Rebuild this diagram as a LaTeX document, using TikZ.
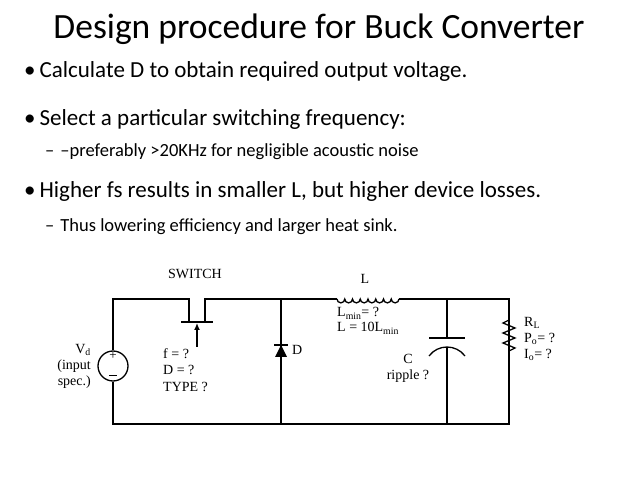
\documentclass[tikz,border=0pt]{standalone}
\usepackage{fontspec}
\setmainfont{Carlito}
\newfontfamily\tms{Liberation Serif}
\usetikzlibrary{arrows.meta}
\begin{document}
\begin{tikzpicture}[x=1pt,y=-1pt,
  w/.style={line width=1.3pt},
  lbl/.style={font=\tms\fontsize{14}{15}\selectfont,inner sep=0pt},
  bul/.style={anchor=base west,font=\fontsize{23}{26}\selectfont,inner sep=0pt},
  sub/.style={anchor=base west,font=\fontsize{18.5}{20}\selectfont,inner sep=0pt}]
\useasboundingbox (0,0) rectangle (638,478);
\node[font=\fontsize{35.5}{40}\selectfont,anchor=base] (title) at (319,39) {Design procedure for Buck Converter};
\node[bul] (b1) at (24,78) {•\hspace{4pt}Calculate D to obtain required output voltage.};
\node[bul] (b2) at (24,126) {•\hspace{4pt}Select a particular switching frequency:};
\node[sub] (s2) at (45,157) {–\hspace{6pt}–preferably >20KHz for negligible acoustic noise};
\node[bul] (b3) at (24,198) {•\hspace{4pt}Higher fs results in smaller L, but higher device losses.};
\node[sub] (s3) at (45,232) {–\hspace{6pt}Thus lowering efficiency and larger heat sink.};
% circuit
\coordinate (tl) at (113,299); \coordinate (bl) at (113,424);
\coordinate (tr) at (509,299); \coordinate (br) at (509,424);
\node[draw,w,circle,minimum size=30pt,inner sep=0pt] (src) at (113,366) {};
\node[font=\tms\fontsize{13}{13}\selectfont,inner sep=0pt] (p) at (113,356) {+};
\draw[line width=1pt] (109,376) -- (117,376);
\draw[w] (src.north) -- (tl) -- (189,299) -- (189,321);
\draw[w] (src.south) -- (bl) -- (br) -- (tr) -- (399,299);
\draw[w] (181,322) -- (213,322);
\draw[w] (205,321) -- (205,299) -- (337,299);
\draw[w,-{Latex[length=7pt,width=6pt]}] (197,347) -- (197,323);
% diode
\coordinate (dt) at (281,299); \coordinate (db) at (281,424);
\draw[w] (dt) -- (db);
\fill (275,357) -- (287,357) -- (281,345) -- cycle;
\draw[w] (274,345) -- (288,345);
% inductor
\draw[w] (337,299) arc (180:0:3.875) arc (180:0:3.875) arc (180:0:3.875) arc (180:0:3.875) arc (180:0:3.875) arc (180:0:3.875) arc (180:0:3.875) arc (180:0:3.875);
% capacitor
\draw[w] (447,299) -- (447,338); \draw[w] (429,338) -- (465,338);
\draw[w] (429,356) .. controls (438,344) and (456,344) .. (465,356);
\draw[w] (447,347) -- (447,424);
% resistor
\draw[w] (509,299) -- (509,320) -- (503,323) -- (515,328) -- (503,333) -- (515,338) -- (503,343) -- (515,348) -- (509,351) -- (509,424);
% labels
\node[lbl] (sw) at (195,274) {SWITCH};
\node[lbl] (Ll) at (365,279) {L};
\node[lbl,anchor=base west] (Lmin) at (337,317) {L\textsubscript{min}= ?};
\node[lbl,anchor=base west] (L10) at (337,332) {L = 10L\textsubscript{min}};
\node[lbl,anchor=west] (Dl) at (292,350) {D};
\node[lbl] (Cl) at (408,359) {C};
\node[lbl] (rip) at (408,376) {ripple ?};
\node[lbl,anchor=west] (RL) at (524,323) {R\textsubscript{L}};
\node[lbl,anchor=west] (Po) at (524,339) {P\textsubscript{o}= ?};
\node[lbl,anchor=west] (Io) at (524,355) {I\textsubscript{o}= ?};
\node[lbl,anchor=west] (f) at (163,354) {f = ?};
\node[lbl,anchor=west] (Dq) at (163,370) {D = ?};
\node[lbl,anchor=west] (ty) at (163,387) {TYPE ?};
\node[lbl,align=right,anchor=east,font=\tms\fontsize{14}{16}\selectfont] (vd) at (91,366) {V\textsubscript{d}\\(input\\spec.)};
\end{tikzpicture}
\end{document}
